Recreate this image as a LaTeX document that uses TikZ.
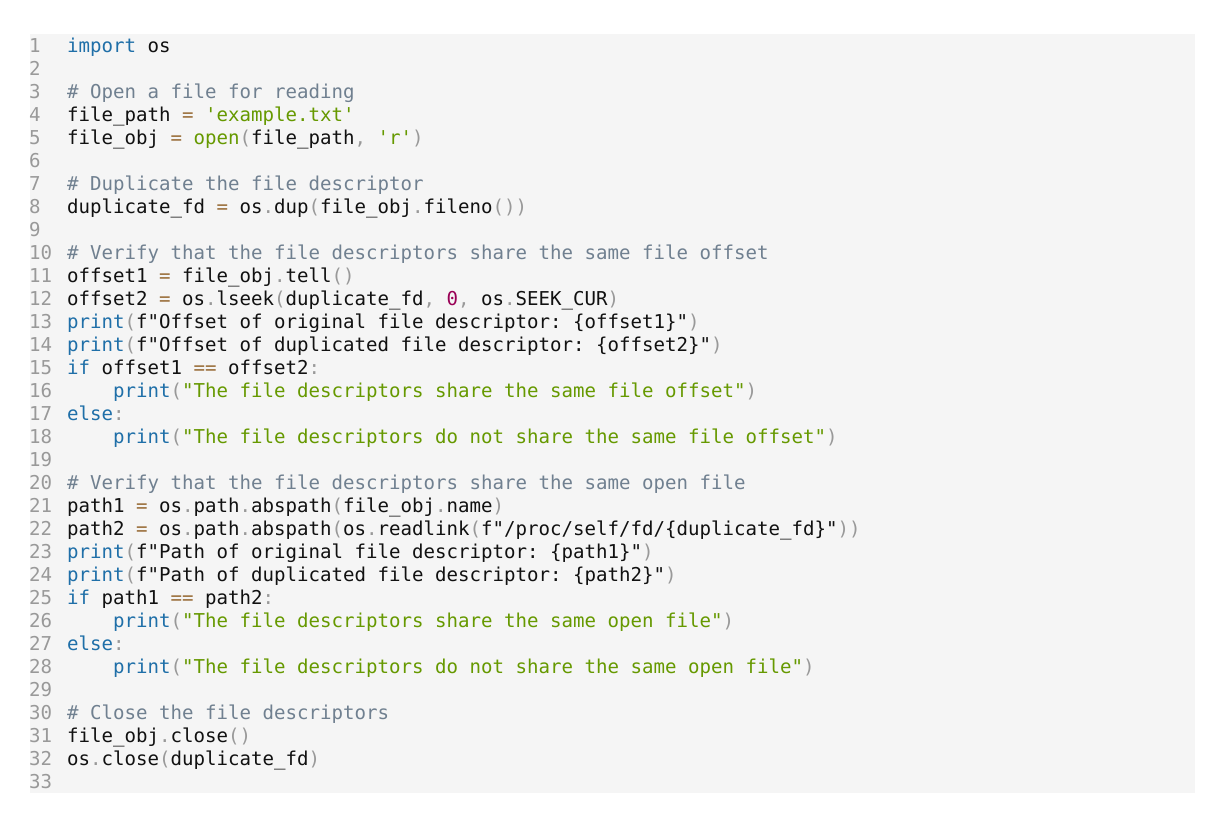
\documentclass[tikz,border=0pt]{standalone}
\usepackage{fontspec}
\setmonofont{DejaVu Sans Mono}
\definecolor{codebg}{HTML}{F5F5F5}
\definecolor{kwc}{HTML}{1F6FA8}
\definecolor{cmc}{HTML}{708090}
\definecolor{stc}{HTML}{669900}
\definecolor{opc}{HTML}{9A6E3A}
\definecolor{puc}{HTML}{999999}
\definecolor{nuc}{HTML}{990055}
\definecolor{lnc}{HTML}{999999}
\definecolor{txc}{HTML}{111111}
\newcommand\hkw[1]{\textcolor{kwc}{#1}}
\newcommand\hcm[1]{\textcolor{cmc}{#1}}
\newcommand\hst[1]{\textcolor{stc}{#1}}
\newcommand\hop[1]{\textcolor{opc}{#1}}
\newcommand\hpu[1]{\textcolor{puc}{#1}}
\newcommand\hnu[1]{\textcolor{nuc}{#1}}
\tikzset{
  codeline/.style={anchor=base west, inner sep=0pt, text=txc,
    font=\ttfamily\fontsize{19.1}{23}\selectfont},
  lineno/.style={codeline, text=lnc}
}
\begin{document}
\begin{tikzpicture}[x=1pt,y=-1pt]
\useasboundingbox (0,0) rectangle (1214,814);
\fill[codebg] (30,34) rectangle (1195,793);
\foreach \i in {1,...,33}
  \node[lineno] (n\i) at (29,{52+23.03*(\i-1)}) {\i};
\node[codeline] (l1) at (67,52) {\hkw{import} os};
\node[codeline] (l3) at (67,98.06) {\hcm{\# Open a file for reading}};
\node[codeline] (l4) at (67,121.09) {file\_path \hop{=} \hst{'example.txt'}};
\node[codeline] (l5) at (67,144.12) {file\_obj \hop{=} \hst{open}\hpu{(}file\_path\hpu{,} \hst{'r'}\hpu{)}};
\node[codeline] (l7) at (67,190.18) {\hcm{\# Duplicate the file descriptor}};
\node[codeline] (l8) at (67,213.21) {duplicate\_fd \hop{=} os\hpu{.}dup\hpu{(}file\_obj\hpu{.}fileno\hpu{())}};
\node[codeline] (l10) at (67,259.27) {\hcm{\# Verify that the file descriptors share the same file offset}};
\node[codeline] (l11) at (67,282.30) {offset1 \hop{=} file\_obj\hpu{.}tell\hpu{()}};
\node[codeline] (l12) at (67,305.33) {offset2 \hop{=} os\hpu{.}lseek\hpu{(}duplicate\_fd\hpu{,} \hnu{0}\hpu{,} os\hpu{.}SEEK\_CUR\hpu{)}};
\node[codeline] (l13) at (67,328.36) {\hkw{print}\hpu{(}f"Offset of original file descriptor: \{offset1\}"\hpu{)}};
\node[codeline] (l14) at (67,351.39) {\hkw{print}\hpu{(}f"Offset of duplicated file descriptor: \{offset2\}"\hpu{)}};
\node[codeline] (l15) at (67,374.42) {\hkw{if} offset1 \hop{==} offset2\hpu{:}};
\node[codeline] (l16) at (113,397.45) {\hkw{print}\hpu{(}\hst{"The file descriptors share the same file offset"}\hpu{)}};
\node[codeline] (l17) at (67,420.48) {\hkw{else}\hpu{:}};
\node[codeline] (l18) at (113,443.51) {\hkw{print}\hpu{(}\hst{"The file descriptors do not share the same file offset"}\hpu{)}};
\node[codeline] (l20) at (67,489.57) {\hcm{\# Verify that the file descriptors share the same open file}};
\node[codeline] (l21) at (67,512.60) {path1 \hop{=} os\hpu{.}path\hpu{.}abspath\hpu{(}file\_obj\hpu{.}name\hpu{)}};
\node[codeline] (l22) at (67,535.63) {path2 \hop{=} os\hpu{.}path\hpu{.}abspath\hpu{(}os\hpu{.}readlink\hpu{(}f"/proc/self/fd/\{duplicate\_fd\}"\hpu{))}};
\node[codeline] (l23) at (67,558.66) {\hkw{print}\hpu{(}f"Path of original file descriptor: \{path1\}"\hpu{)}};
\node[codeline] (l24) at (67,581.69) {\hkw{print}\hpu{(}f"Path of duplicated file descriptor: \{path2\}"\hpu{)}};
\node[codeline] (l25) at (67,604.72) {\hkw{if} path1 \hop{==} path2\hpu{:}};
\node[codeline] (l26) at (113,627.75) {\hkw{print}\hpu{(}\hst{"The file descriptors share the same open file"}\hpu{)}};
\node[codeline] (l27) at (67,650.78) {\hkw{else}\hpu{:}};
\node[codeline] (l28) at (113,673.81) {\hkw{print}\hpu{(}\hst{"The file descriptors do not share the same open file"}\hpu{)}};
\node[codeline] (l30) at (67,719.87) {\hcm{\# Close the file descriptors}};
\node[codeline] (l31) at (67,742.90) {file\_obj\hpu{.}close\hpu{()}};
\node[codeline] (l32) at (67,765.93) {os\hpu{.}close\hpu{(}duplicate\_fd\hpu{)}};
\end{tikzpicture}
\end{document}
